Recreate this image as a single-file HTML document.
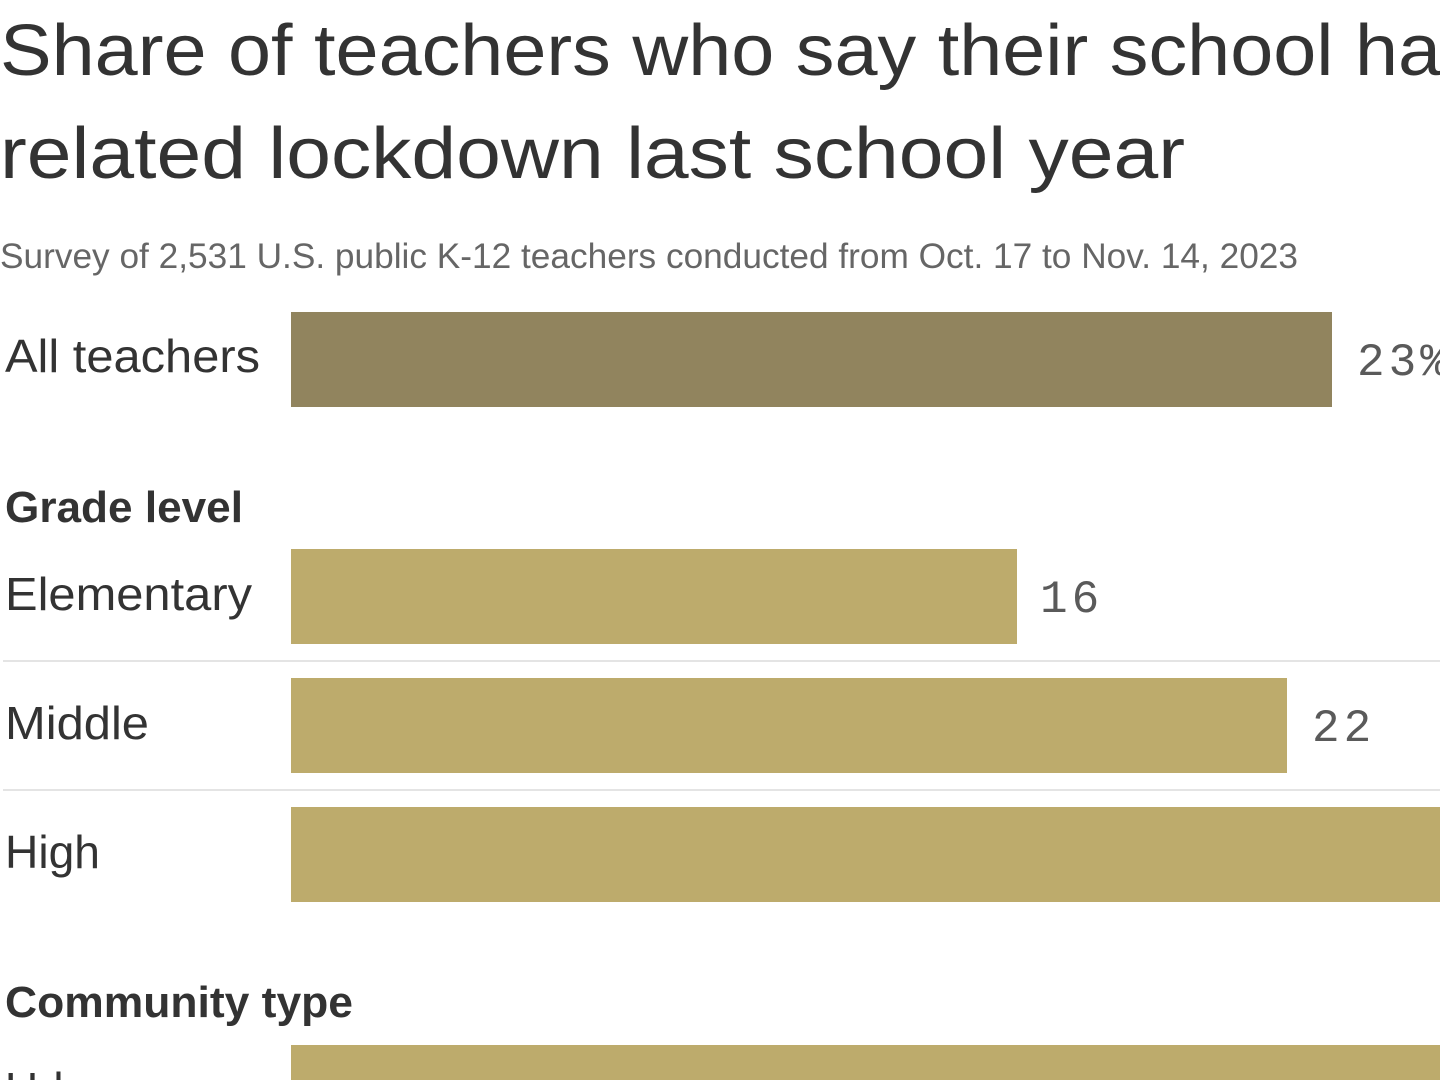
<!DOCTYPE html>
<html><head><meta charset="utf-8"><style>
html,body{margin:0;padding:0;background:#fff;width:1440px;height:1080px;overflow:hidden}
svg{display:block}
.t{font-family:"Liberation Sans",sans-serif;fill:#333}
.m{font-family:"Liberation Mono",monospace;fill:#5a5a5a;font-size:46px;letter-spacing:4px}
</style></head><body>
<svg width="1440" height="1080" viewBox="0 0 1440 1080" xmlns="http://www.w3.org/2000/svg">
<text class="t" x="0" y="75" font-size="72" textLength="1725" lengthAdjust="spacingAndGlyphs">Share of teachers who say their school had a gun-</text>
<text class="t" x="0" y="178" font-size="72" textLength="1185" lengthAdjust="spacingAndGlyphs">related lockdown last school year</text>
<text class="t" x="0" y="268" font-size="35" style="fill:#666" textLength="1298" lengthAdjust="spacingAndGlyphs">Survey of 2,531 U.S. public K-12 teachers conducted from Oct. 17 to Nov. 14, 2023</text>

<text class="t" x="5" y="372" font-size="46" textLength="255" lengthAdjust="spacingAndGlyphs">All teachers</text>
<rect x="291" y="312" width="1041" height="95" fill="#91845e"/>
<text class="m" x="1357" y="375">23%</text>

<text class="t" x="5" y="522" font-size="44" font-weight="bold" textLength="238" lengthAdjust="spacingAndGlyphs">Grade level</text>

<text class="t" x="5" y="610" font-size="46" textLength="247" lengthAdjust="spacingAndGlyphs">Elementary</text>
<rect x="291" y="549" width="726" height="95" fill="#bdab6c"/>
<text class="m" x="1040" y="612">16</text>
<rect x="3" y="660" width="1437" height="2" fill="#e4e4e4"/>

<text class="t" x="5" y="739" font-size="46" textLength="144" lengthAdjust="spacingAndGlyphs">Middle</text>
<rect x="291" y="678" width="996" height="95" fill="#bdab6c"/>
<text class="m" x="1312" y="741">22</text>
<rect x="3" y="789" width="1437" height="2" fill="#e4e4e4"/>

<text class="t" x="5" y="868" font-size="46" textLength="95" lengthAdjust="spacingAndGlyphs">High</text>
<rect x="291" y="807" width="1149" height="95" fill="#bdab6c"/>

<text class="t" x="5" y="1017" font-size="44" font-weight="bold" textLength="348" lengthAdjust="spacingAndGlyphs">Community type</text>
<rect x="291" y="1045" width="1149" height="40" fill="#bdab6c"/>
<text class="t" x="5" y="1105" font-size="46" textLength="125" lengthAdjust="spacingAndGlyphs">Urban</text>
</svg>
</body></html>
